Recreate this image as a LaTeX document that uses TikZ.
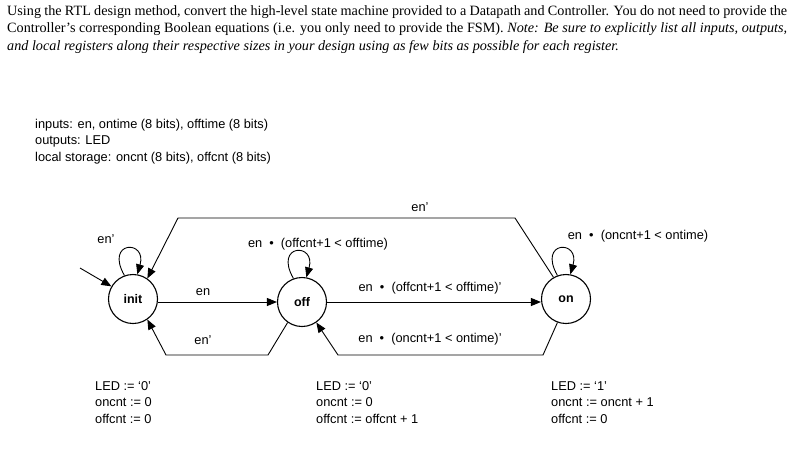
\documentclass[tikz,border=0pt]{standalone}
\usepackage{fontspec}
\setmainfont{Liberation Serif}
\setsansfont{Liberation Sans}
\usetikzlibrary{arrows.meta}
\begin{document}
\begin{tikzpicture}[x=1pt,y=-1pt,
  st/.style={circle,draw,line width=1.1pt,minimum size=49pt,inner sep=0pt,font=\sffamily\bfseries\fontsize{12.5}{14}\selectfont},
  tr/.style={line width=0.9pt,-{Triangle[length=10pt,width=8pt]}},
  lb/.style={font=\sffamily\fontsize{12.8}{14}\selectfont,inner sep=1pt},
  blk/.style={font=\sffamily\fontsize{12.8}{16.5}\selectfont,align=left,anchor=north west,inner sep=0pt}]
\useasboundingbox (0,0) rectangle (799,453);
\node[anchor=north west,inner sep=0pt,text width=780pt,align=justify,font=\fontsize{14.2}{17.6}\selectfont] (hdr) at (7,5)
{Using the RTL design method, convert the high-level state machine provided to a Datapath and Controller. You do not need to provide the Controller's corresponding Boolean equations (i.e. you only need to provide the FSM). \textit{Note: Be sure to explicitly list all inputs, outputs, and local registers along their respective sizes in your design using as few bits as possible for each register.}};
\node[blk] (io) at (35,119) {inputs: en, ontime (8 bits), offtime (8 bits)\\outputs: LED\\local storage: oncnt (8 bits), offcnt (8 bits)};
\node[st] (init) at (133,299) {init};
\node[st] (off) at (302,302) {off};
\node[st] (on) at (566,299) {on};
\coordinate (s) at (80,268);
\draw[tr] (s) -- (init);
% self loops
\draw[tr] (init.110) .. controls +(-20,-35) and +(10,-35) .. (init.80);
\draw[tr] (off.110) .. controls +(-20,-35) and +(10,-35) .. (off.80);
\draw[tr] (on.110) .. controls +(-20,-35) and +(10,-35) .. (on.80);
\node[lb] (l1) at (106,239) {en'};
\node[lb] (l2) at (318,244) {en ~•~ (offcnt+1 < offtime)};
\node[lb] (l3) at (638,236) {en ~•~ (oncnt+1 < ontime)};
% straight
\draw[tr] (init.east |- 0,302) -- (off.west |- 0,302);
\draw[tr] (off.east |- 0,302) -- (on.west |- 0,302);
\node[lb] (l4) at (203,292) {en};
\node[lb] (l5) at (430,288) {en ~•~ (offcnt+1 < offtime)'};
% bottom
\coordinate (b1) at (268,355); \coordinate (b2) at (166,355);
\draw[tr] (off.235) -- (b1) -- (b2) -- (init.305);
\node[lb] (l6) at (203,340) {en'};
\coordinate (b3) at (543,355); \coordinate (b4) at (338,355);
\draw[tr] (on.250) -- (b3) -- (b4) -- (off.305);
\node[lb] (l7) at (430,339) {en ~•~ (oncnt+1 < ontime)'};
% top
\coordinate (t1) at (515,218); \coordinate (t2) at (178,218);
\draw[tr] (on.120) -- (t1) -- (t2) -- (init.55);
\node[lb] (l8) at (420,207) {en'};
\node[blk] (a1) at (95,381) {LED := `0'\\oncnt := 0\\offcnt := 0};
\node[blk] (a2) at (316,381) {LED := `0'\\oncnt := 0\\offcnt := offcnt + 1};
\node[blk] (a3) at (551,381) {LED := `1'\\oncnt := oncnt + 1\\offcnt := 0};
\end{tikzpicture}
\end{document}
